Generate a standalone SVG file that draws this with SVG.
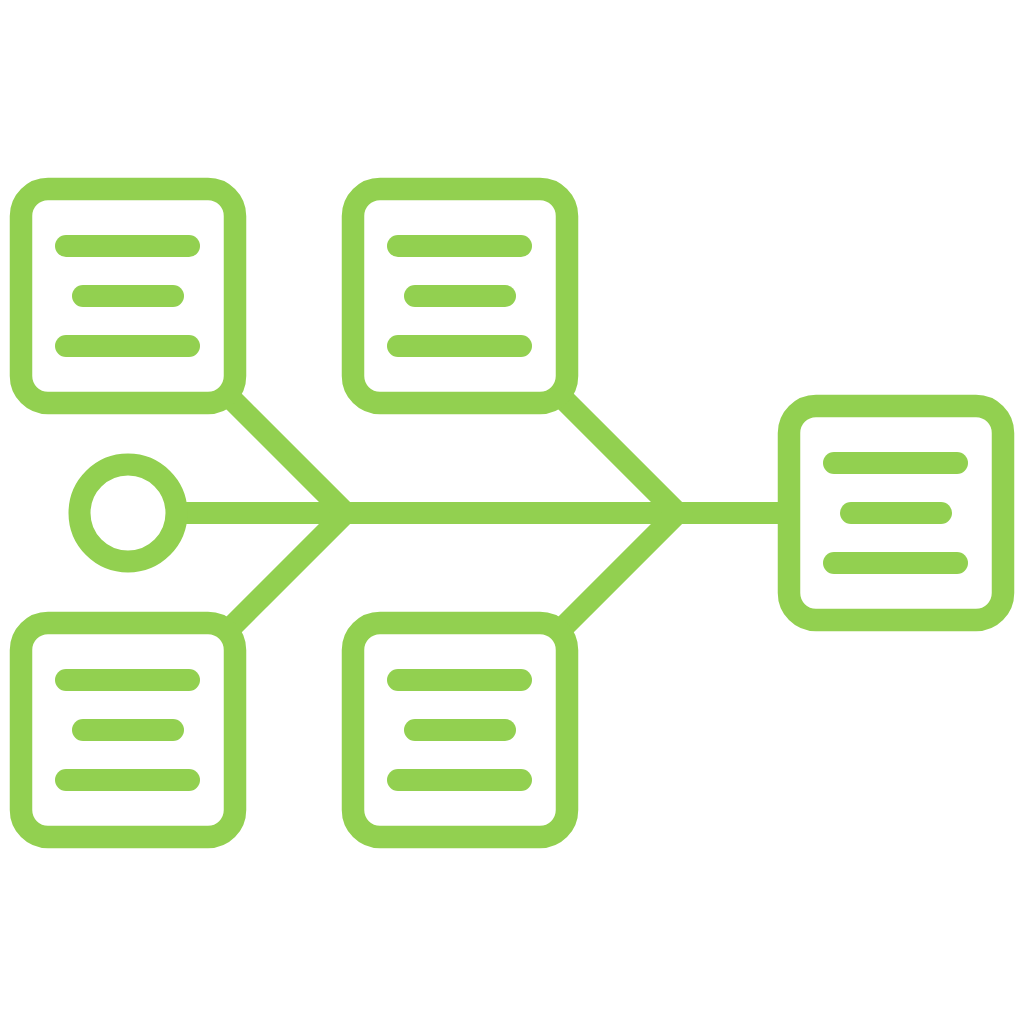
<svg xmlns="http://www.w3.org/2000/svg" width="1024" height="1024" viewBox="0 0 1024 1024">
<style>
.s{fill:none;stroke:#92D050;stroke-width:22}
.b{fill:none;stroke:#92D050;stroke-width:22.5}
.t{stroke:#92D050;stroke-width:22;stroke-linecap:round}
</style>
<defs>
<g id="doc">
<rect class="b" x="21" y="189" width="214" height="214" rx="27"/>
<line class="t" x1="66" y1="246" x2="189" y2="246"/>
<line class="t" x1="83" y1="296" x2="173" y2="296"/>
<line class="t" x1="66" y1="346" x2="189" y2="346"/>
</g>
</defs>
<rect width="1024" height="1024" fill="#fff"/>
<g id="connectors">
<line class="s" x1="176" y1="513" x2="791" y2="513"/>
<polyline class="s" points="225,392.5 345.5,513 225,633.5"/>
<polyline class="s" points="557,392.5 677.5,513 557,633.5"/>
</g>
<g id="head"><circle class="s" cx="128" cy="513" r="48.5" stroke-width="23"/></g>
<g id="cause-top-1"><use href="#doc"/></g>
<g id="cause-top-2"><use href="#doc" x="332"/></g>
<g id="cause-bottom-1"><use href="#doc" y="434"/></g>
<g id="cause-bottom-2"><use href="#doc" x="332" y="434"/></g>
<g id="effect"><use href="#doc" x="768" y="217"/></g>
</svg>
